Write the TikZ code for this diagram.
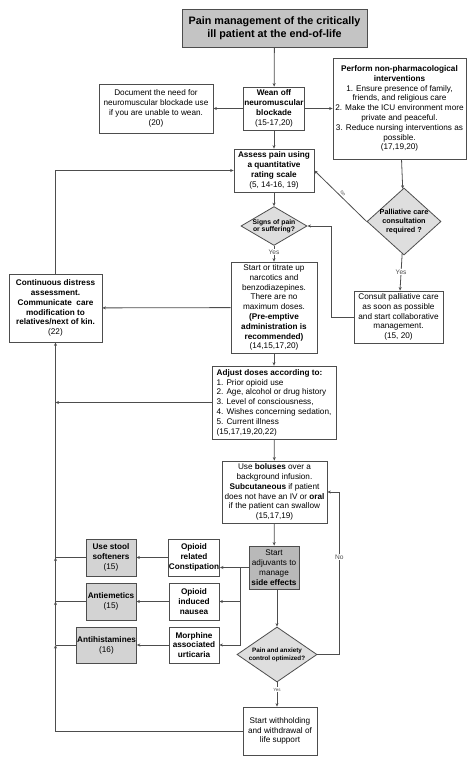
\documentclass[tikz,border=0pt]{standalone}
\usepackage{fontspec}
\setmainfont{Liberation Sans}
\usetikzlibrary{arrows.meta,shapes.geometric}
\definecolor{lineg}{HTML}{4D4D4D}
\definecolor{titleg}{HTML}{C4C4C4}
\definecolor{adjg}{HTML}{B9B9B9}
\definecolor{boxg}{HTML}{D3D3D3}
\definecolor{diag}{HTML}{DEDEDE}
\begin{document}
\begin{tikzpicture}[x=1pt, y=-1pt,
        >={Stealth[length=3.5pt,width=3pt]},
        line/.style={draw=lineg, line width=0.8pt},
        arr/.style={line, ->},
        box/.style={draw=lineg, line width=0.8pt, fill=white, rectangle, align=center, inner sep=0.5pt,
            font=\fontsize{8.2}{9.8}\selectfont},
        graybox/.style={box, fill=boxg},
        decide/.style={draw=lineg, line width=0.8pt, fill=diag, diamond, align=center, inner sep=0pt},
        lab/.style={font=\fontsize{6.6}{7}\selectfont, text=lineg, fill=white, inner sep=0.6pt}]
        \useasboundingbox (0,0) rectangle (474,765);

        \node[box, fill=titleg, minimum width=185pt, minimum height=38pt, font=\fontsize{10.8}{13}\selectfont\bfseries]
            (title) at (274.5,28) {Pain management of the critically\\ill patient at the end-of-life};
        \node[box, minimum width=58pt, minimum height=43pt] (wean) at (274,108.5)
            {\textbf{Wean off}\\\textbf{neuromuscular}\\\textbf{blockade}\\(15-17,20)};
        \node[box, minimum width=114pt, minimum height=49pt] (doc) at (156,108.5)
            {Document the need for\\neuromuscular blockade use\\if you are unable to wean.\\(20)};
        \node[box, minimum width=133pt, minimum height=101pt] (nonpharm) at (399.5,108.5)
            {\textbf{Perform non-pharmacological}\\\textbf{interventions}\\1. Ensure presence of family,\\friends, and religious care\\2. Make the ICU environment more\\private and peaceful.\\3. Reduce nursing interventions as\\possible.\\(17,19,20)};
        \node[box, minimum width=80pt, minimum height=43pt] (assess) at (274,170.5)
            {\textbf{Assess pain using}\\\textbf{a quantitative}\\\textbf{rating scale}\\(5, 14-16, 19)};
        \node[decide, minimum width=66pt, minimum height=38pt, shape aspect=1.7, font=\fontsize{6.8}{7.4}\selectfont\bfseries]
            (signs) at (274,226) {Signs of pain\\or suffering?};
        \node[decide, minimum width=74pt, minimum height=67pt, shape aspect=1.1, inner sep=-4pt, font=\fontsize{7.3}{9.3}\selectfont\bfseries]
            (palliative) at (404,221.5) {Palliative care\\consultation\\required ?};
        \node[box, minimum width=86pt, minimum height=91pt] (titrate) at (274,307.5)
            {Start or titrate up\\narcotics and\\benzodiazepines.\\There are no\\maximum doses.\\\textbf{(Pre-emptive}\\\textbf{administration is}\\\textbf{recommended)}\\(14,15,17,20)};
        \node[box, minimum width=93pt, minimum height=68pt] (distress) at (55.5,308)
            {\textbf{Continuous distress}\\\textbf{assessment.}\\\textbf{Communicate\ \ care}\\\textbf{modification to}\\\textbf{relatives/next of kin.}\\(22)};
        \node[box, minimum width=89pt, minimum height=52pt] (consult) at (398.5,317)
            {Consult palliative care\\as soon as possible\\and start collaborative\\management.\\(15, 20)};
        \node[box, minimum width=124pt, minimum height=73pt, align=left, inner sep=1.5pt] (adjust) at (274,402.5)
            {\textbf{Adjust doses according to:}\\1. Prior opioid use\\2. Age, alcohol or drug history\\3. Level of consciousness,\\4. Wishes concerning sedation,\\5. Current illness\\(15,17,19,20,22)};
        \node[box, minimum width=105pt, minimum height=62pt] (boluses) at (274.5,492)
            {Use \textbf{boluses} over a\\background infusion.\\\textbf{Subcutaneous} if patient\\does not have an IV or \textbf{oral}\\if the patient can swallow\\(15,17,19)};
        \node[box, fill=adjg, minimum width=50pt, minimum height=43pt] (adjuvants) at (274,567.5)
            {Start\\adjuvants to\\manage\\\textbf{side effects}};
        \node[box, minimum width=50pt, minimum height=37pt, font=\fontsize{8.2}{9.8}\selectfont\bfseries]
            (constip) at (194,557.5) {Opioid\\related\\Constipation};
        \node[box, minimum width=50pt, minimum height=37pt, font=\fontsize{8.2}{9.8}\selectfont\bfseries]
            (nausea) at (194,601.5) {Opioid\\induced\\nausea};
        \node[box, minimum width=50pt, minimum height=36pt, font=\fontsize{8.2}{9.8}\selectfont\bfseries]
            (urticaria) at (194,645) {Morphine\\associated\\urticaria};
        \node[graybox, minimum width=50pt, minimum height=37pt] (softeners) at (111,557.5)
            {\textbf{Use stool}\\\textbf{softeners}\\(15)};
        \node[graybox, minimum width=50pt, minimum height=37pt] (antiemetics) at (111,601.5)
            {\textbf{Antiemetics}\\(15)};
        \node[graybox, minimum width=59pt, minimum height=36pt] (antihist) at (106.5,645)
            {\textbf{Antihistamines}\\(16)};
        \node[decide, minimum width=80pt, minimum height=55pt, shape aspect=1.45, inner sep=-2pt, font=\fontsize{6.3}{8}\selectfont\bfseries]
            (optimized) at (277,654.5) {Pain and anxiety\\control optimized?};
        \node[box, minimum width=74pt, minimum height=48pt] (withdraw) at (280,731)
            {Start withholding\\and withdrawal of\\life support};
        \coordinate (fork) at (240,567.5);

        \draw[arr] (title) -- (wean);
        \draw[arr] (wean) -- (doc);
        \draw[arr] (wean) -- (nonpharm);
        \draw[arr] (wean) -- (assess);
        \draw[arr] (assess) -- (signs);
        \draw[arr] (nonpharm) -- (palliative);
        \draw[arr] (palliative.west) -- node[midway, sloped, above=1.5pt, inner sep=0pt, text=lineg, font=\fontsize{4.5}{5}\selectfont] {No} (assess.east);
        \draw[arr] (palliative) -- node[lab, pos=0.5] {Yes} (consult);
        \draw[arr] (consult.west) -- ++(-22,0) |- (signs.east);
        \draw[arr] (signs) -- node[lab, pos=0.4] {Yes} (titrate);
        \draw[arr] (titrate) -- (distress);
        \draw[arr] (distress.north) |- (assess.west);
        \draw[arr] (titrate) -- (adjust);
        \draw[arr] (adjust.west) -- (adjust.west -| distress.south);
        \draw[arr] (adjust) -- (boluses);
        \draw[arr] (boluses) -- (adjuvants);
        \draw[arr] (optimized.north |- adjuvants.south) -- (optimized.north);
        \draw[arr] (optimized.east) -- ++(22,0) |- node[lab, pos=0.3] {No} (boluses.east);
        \draw[arr] (optimized.south) -- node[lab, pos=0.3, font=\fontsize{4.5}{5}\selectfont] {Yes} (optimized.south |- withdraw.north);
        \draw[arr] (adjuvants.west) -- (adjuvants.west -| constip.east);
        \draw[arr] (fork) |- (nausea.east);
        \draw[arr] (fork) |- (urticaria.east);
        \draw[arr] (constip) -- (softeners);
        \draw[arr] (nausea) -- (antiemetics);
        \draw[arr] (urticaria) -- (antihist);
        \draw[line] (softeners.west) -- (softeners.west -| distress.south);
        \draw[line] (antiemetics.west) -- (antiemetics.west -| distress.south);
        \draw[line] (antihist.west) -- (antihist.west -| distress.south);
        \draw[arr] (withdraw.west) -| (antihist.west -| distress.south);
        \draw[arr] (antihist.west -| distress.south) -- (antiemetics.west -| distress.south);
        \draw[arr] (antiemetics.west -| distress.south) -- (softeners.west -| distress.south);
        \draw[arr] (softeners.west -| distress.south) -- (distress.south);
    \end{tikzpicture}
\end{document}
